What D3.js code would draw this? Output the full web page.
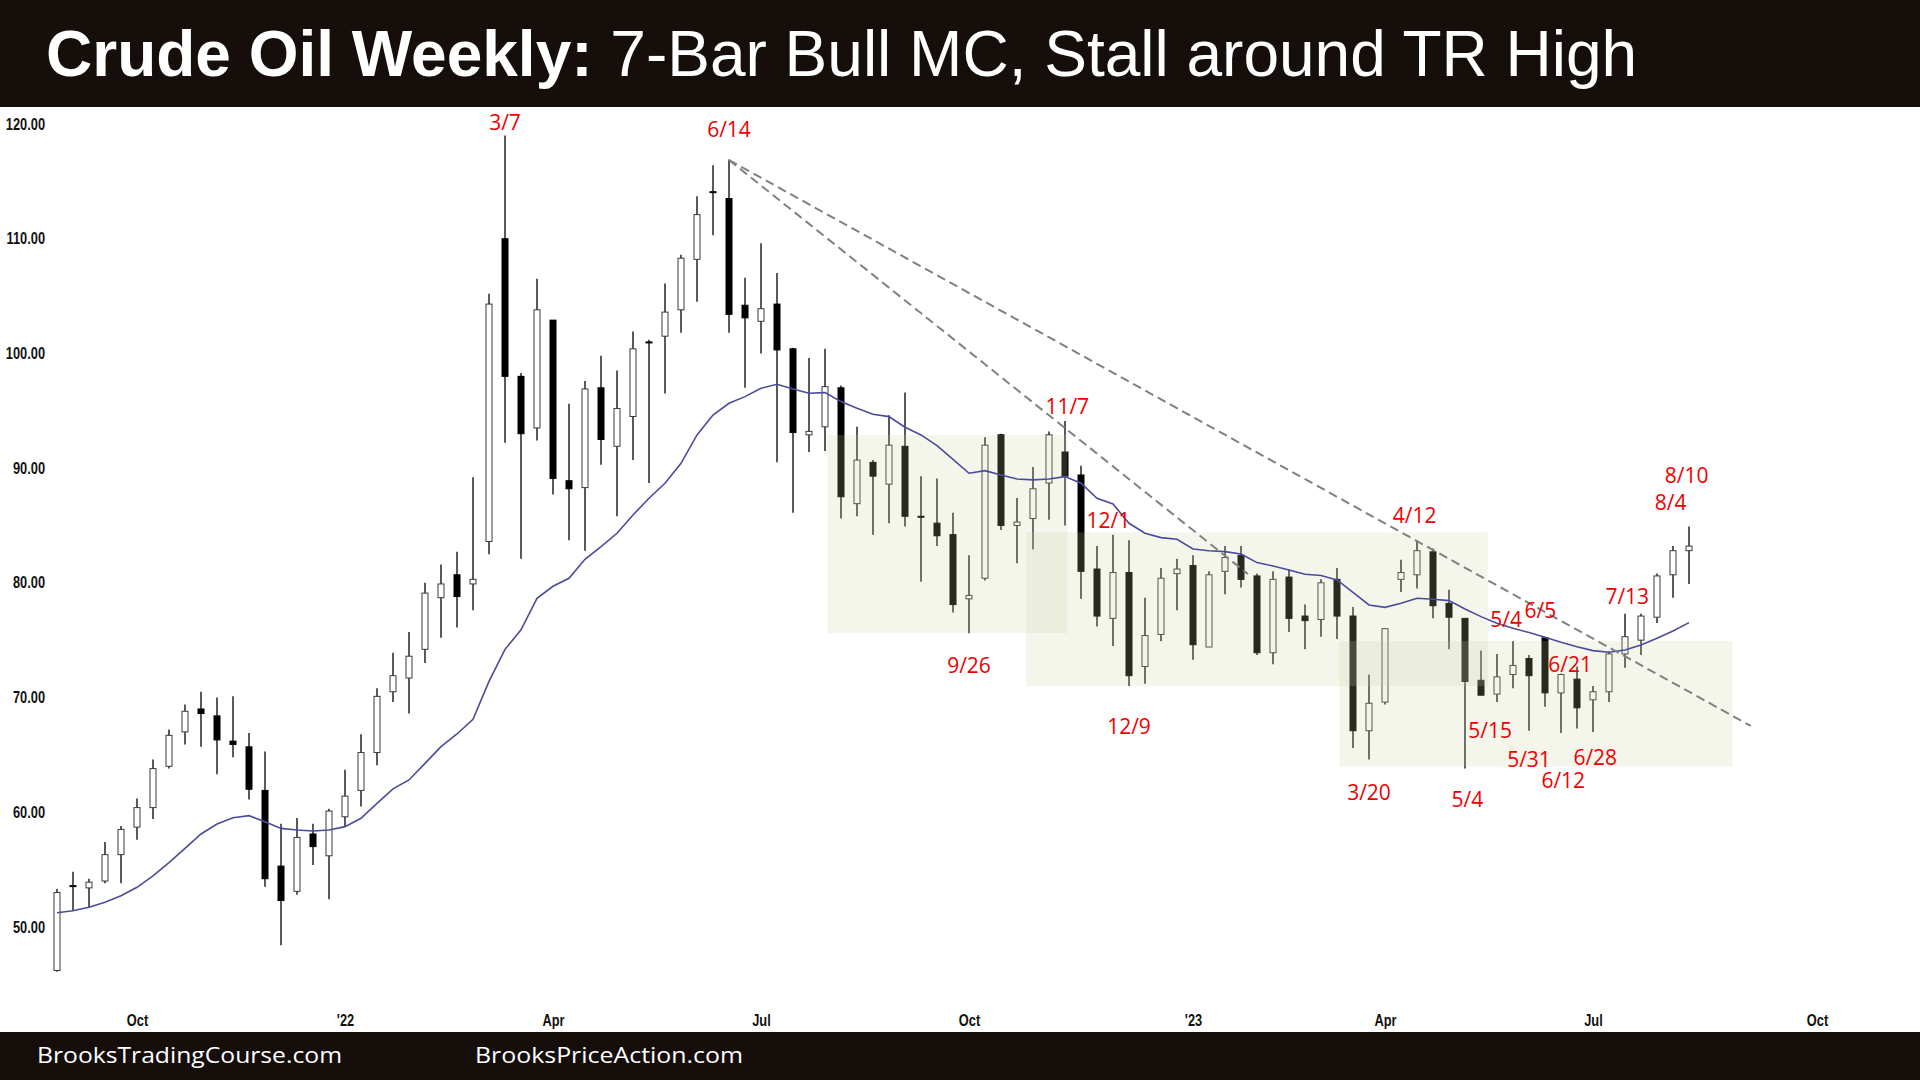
<!DOCTYPE html>
<html>
<head>
<meta charset="utf-8">
<title>Crude Oil Weekly</title>
<script src="https://cdn.jsdelivr.net/npm/d3@7"></script>
<style>
  body { margin: 0; background: #fff; }
  svg { display: block; }
  .axis text { font-family: "Liberation Sans Narrow", "Arial Narrow", "Liberation Sans", sans-serif; font-weight: bold; font-size: 16px; fill: #111; }
  .axis .domain, .axis line { display: none; }
  .note { font-family: "Open Sans", sans-serif; font-size: 21px; fill: #ee0000; text-anchor: middle; }
  .footer { font-family: "Open Sans", sans-serif; font-size: 21px; fill: #fff; }
</style>
</head>
<body>
<div id="chart"></div>
<script>

// weekly bars (Monday of each week)
var weeks = [
  "2021-08-23","2021-08-30","2021-09-06","2021-09-13","2021-09-20","2021-09-27","2021-10-04","2021-10-11",
  "2021-10-18","2021-10-25","2021-11-01","2021-11-08","2021-11-15","2021-11-22","2021-11-29","2021-12-06",
  "2021-12-13","2021-12-20","2021-12-27","2022-01-03","2022-01-10","2022-01-17","2022-01-24","2022-01-31",
  "2022-02-07","2022-02-14","2022-02-21","2022-02-28","2022-03-07","2022-03-14","2022-03-21","2022-03-28",
  "2022-04-04","2022-04-11","2022-04-18","2022-04-25","2022-05-02","2022-05-09","2022-05-16","2022-05-23",
  "2022-05-30","2022-06-06","2022-06-13","2022-06-20","2022-06-27","2022-07-04","2022-07-11","2022-07-18",
  "2022-07-25","2022-08-01","2022-08-08","2022-08-15","2022-08-22","2022-08-29","2022-09-05","2022-09-12",
  "2022-09-19","2022-09-26","2022-10-03","2022-10-10","2022-10-17","2022-10-24","2022-10-31","2022-11-07",
  "2022-11-14","2022-11-21","2022-11-28","2022-12-05","2022-12-12","2022-12-19","2022-12-26","2023-01-02",
  "2023-01-09","2023-01-16","2023-01-23","2023-01-30","2023-02-06","2023-02-13","2023-02-20","2023-02-27",
  "2023-03-06","2023-03-13","2023-03-20","2023-03-27","2023-04-03","2023-04-10","2023-04-17","2023-04-24",
  "2023-05-01","2023-05-08","2023-05-15","2023-05-22","2023-05-29","2023-06-05","2023-06-12","2023-06-19",
  "2023-06-26","2023-07-03","2023-07-10","2023-07-17","2023-07-24","2023-07-31","2023-08-07"
];

var opens = [
  46.2,53.6,53.4,54.0,56.3,58.7,60.4,64.0,67.0,69.0,68.4,66.2,65.7,61.9,55.3,53.1,58.1,56.2,59.6,61.9,
  65.2,70.5,71.7,74.2,78.7,80.7,79.9,83.6,110.0,98.0,93.5,102.9,88.9,88.3,97.0,91.9,94.5,101.0,101.5,103.8,
  108.2,114.1,113.5,104.2,102.8,104.3,100.4,92.9,93.6,97.0,86.9,90.5,88.6,91.9,85.8,85.2,84.2,78.6,80.4,92.9,
  85.0,85.6,88.7,91.4,89.4,81.2,76.9,80.9,72.7,75.5,80.8,81.5,74.4,81.0,82.4,80.6,73.9,80.5,77.1,76.8,
  80.3,77.1,67.1,69.6,80.3,80.7,82.7,78.2,76.9,71.5,70.3,72.0,73.4,75.2,70.4,71.6,69.8,70.5,73.8,75.0,
  77.0,80.7,82.8
];
var highs = [
  53.3,54.8,54.2,57.4,58.8,61.2,64.6,67.2,69.4,70.5,70.0,70.1,66.9,65.3,59.0,59.5,59.0,60.3,63.7,66.8,
  70.8,73.9,75.7,80.0,81.6,82.7,89.2,105.2,119.0,98.3,106.5,102.9,95.6,97.6,99.8,98.5,101.9,101.2,106.1,108.6,
  113.7,116.4,116.9,106.6,109.6,107.0,100.5,99.6,100.4,97.2,93.6,90.7,94.6,96.6,89.3,89.1,86.1,82.4,92.7,93.0,
  87.4,90.1,93.2,94.1,90.2,83.2,84.2,83.7,78.7,81.3,82.1,82.4,81.0,83.2,83.2,80.8,81.0,81.2,78.1,80.3,
  81.3,77.9,72.0,76.0,82.0,83.7,83.0,79.4,76.9,74.1,73.8,74.9,73.7,75.3,72.1,72.7,71.0,74.0,77.3,77.3,
  80.8,83.2,84.9
];
var lows = [
  46.1,51.4,51.7,53.8,53.8,57.6,59.4,63.8,65.9,65.7,63.3,64.8,61.1,53.5,48.4,52.8,55.4,52.4,58.7,60.5,
  64.1,69.6,68.6,73.0,75.2,76.1,77.6,82.5,92.2,82.1,92.4,87.7,83.7,82.8,90.3,85.8,90.7,88.7,96.5,101.8,
  104.5,110.3,101.8,97.0,100.0,90.5,86.1,91.4,91.5,85.6,85.8,84.2,85.2,84.9,80.1,83.2,77.4,75.6,80.2,84.6,
  81.7,82.9,85.5,85.0,78.6,76.2,74.5,71.0,71.2,74.9,77.6,73.3,74.4,79.0,79.6,73.7,72.9,75.7,74.2,75.3,
  75.1,65.6,64.6,69.4,79.2,79.5,76.9,74.2,63.8,70.2,69.6,70.8,67.1,69.2,66.9,67.3,67.0,69.6,72.6,73.7,
  76.5,78.7,79.9
];
var closes = [
  53.0,53.6,53.9,56.3,58.5,60.4,63.8,66.7,68.8,68.6,66.3,65.9,62.0,54.2,52.3,57.8,57.0,60.1,61.4,65.2,
  70.1,71.9,73.6,79.1,79.9,78.8,80.3,104.3,98.0,93.0,103.8,89.1,88.2,96.9,92.5,95.2,100.4,101.0,103.6,108.3,
  112.1,114.1,103.4,103.1,103.9,100.3,93.1,93.2,97.1,87.5,90.7,89.3,92.0,85.8,85.8,84.1,78.1,78.9,92.0,85.0,
  85.3,88.2,92.9,89.3,81.0,77.1,80.9,71.9,75.4,80.4,81.2,74.6,80.7,82.2,80.3,73.9,80.3,76.9,76.7,80.0,
  77.1,67.1,69.5,76.0,80.9,82.8,78.0,77.0,71.4,70.2,71.8,72.8,71.9,70.4,72.0,69.1,70.5,73.8,75.3,77.1,
  80.6,82.8,83.2
];

// 20-bar moving average
var ema20 = [
  51.24,51.41,51.71,52.14,52.72,53.45,54.44,55.60,56.85,58.10,58.97,59.52,59.70,59.17,58.59,58.45,58.36,58.45,58.74,59.47,
  60.77,62.03,62.81,64.26,65.71,66.82,68.10,71.40,74.20,75.90,78.65,79.70,80.39,82.05,83.15,84.32,85.91,87.37,88.68,90.42,
  92.89,94.63,95.65,96.23,96.96,97.31,96.90,96.52,96.58,95.80,95.21,94.69,94.49,93.56,92.89,91.96,90.77,89.55,89.78,89.40,
  89.05,88.97,89.05,89.26,88.68,87.37,86.87,85.19,84.32,83.94,83.79,82.95,82.80,82.72,82.51,81.76,81.47,81.12,80.74,80.63,
  80.25,79.17,78.07,77.86,78.21,78.65,78.56,78.45,77.72,77.05,76.47,76.03,75.66,75.25,74.81,74.43,74.09,73.94,74.14,74.58,
  75.16,75.80,76.53
];

var yTicks = [50, 60, 70, 80, 90, 100, 110, 120];
var xTickDates = ["2021-09-27","2021-12-27","2022-03-28","2022-06-27","2022-09-26","2023-01-02","2023-03-27","2023-06-26","2023-10-02"];
var xTickLabels = ["Oct","'22","Apr","Jul","Oct","'23","Apr","Jul","Oct"];

// trading range boxes: [start, end, top price, bottom price]
var rangeBoxes = [
  ["2022-07-26", "2022-11-08", 92.89, 75.62],
  ["2022-10-21", "2023-05-11", 84.40, 71.00],
  ["2023-03-07", "2023-08-26", 74.93, 63.97]
];

// dashed trend lines: [start date, start price, end date, end price]
var trendLines = [
  ["2022-06-13", 116.86, "2023-01-26", 80.77],
  ["2022-06-13", 116.86, "2023-09-03", 67.52]
];

// red date notes: [text, date, price at baseline]
var notes = [
  ["3/7", "2022-03-07", 119.48],
  ["6/14", "2022-06-13", 118.87],
  ["11/7", "2022-11-08", 94.72],
  ["12/1", "2022-11-26", 84.78],
  ["9/26", "2022-09-26", 72.14],
  ["12/9", "2022-12-05", 66.82],
  ["4/12", "2023-04-09", 85.21],
  ["5/4", "2023-05-19", 76.15],
  ["6/5", "2023-06-03", 76.93],
  ["3/20", "2023-03-20", 61.06],
  ["5/4", "2023-05-02", 60.45],
  ["5/15", "2023-05-12", 66.47],
  ["5/31", "2023-05-29", 63.94],
  ["6/12", "2023-06-13", 62.11],
  ["6/21", "2023-06-16", 72.22],
  ["6/28", "2023-06-27", 64.11],
  ["7/13", "2023-07-11", 78.15],
  ["8/4", "2023-07-30", 86.35],
  ["8/10", "2023-08-06", 88.70]
];

var svgWidth = 1920;
var svgHeight = 1080;

var parseDate = d3.timeParse("%Y-%m-%d");

var bars = weeks.map(function(w, i) {
    return {
        date: parseDate(w),
        open: opens[i],
        high: highs[i],
        low: lows[i],
        close: closes[i],
        ema: ema20[i]
    };
});

var svg = d3.select("#chart")
    .append("svg")
    .attr("width", svgWidth)
    .attr("height", svgHeight);

// scales
var xScale = d3.scaleTime()
    .domain([bars[0].date, bars[bars.length - 1].date])
    .range([57, 1689]);

var yScale = d3.scaleLinear()
    .domain([50, 120])
    .range([926.9, 124]);

// header and footer bands
svg.append("rect")
    .attr("x", 0).attr("y", 0)
    .attr("width", svgWidth).attr("height", 107)
    .attr("fill", "#150e0b");

svg.append("rect")
    .attr("x", 0).attr("y", 1032)
    .attr("width", svgWidth).attr("height", 48)
    .attr("fill", "#150e0b");

var title = svg.append("text")
    .attr("x", 46)
    .attr("y", 76)
    .attr("fill", "#fff")
    .attr("font-family", "'Liberation Sans', Arial, sans-serif")
    .attr("font-size", 64);
title.append("tspan").attr("font-weight", "bold").text("Crude Oil Weekly:");
title.append("tspan").text(" 7-Bar Bull MC, Stall around TR High");

svg.append("text")
    .attr("class", "footer")
    .attr("x", 37).attr("y", 1063)
    .attr("textLength", 305)
    .attr("lengthAdjust", "spacingAndGlyphs")
    .text("BrooksTradingCourse.com");

svg.append("text")
    .attr("class", "footer")
    .attr("x", 475).attr("y", 1063)
    .attr("textLength", 268)
    .attr("lengthAdjust", "spacingAndGlyphs")
    .text("BrooksPriceAction.com");

// narrow bold axis labels (no narrow font installed, so squeeze them)
function squeeze(sel) {
    sel.each(function() {
        var w = this.getComputedTextLength();
        d3.select(this)
            .attr("textLength", w * 0.8)
            .attr("lengthAdjust", "spacingAndGlyphs");
    });
}

// axes (labels only)
var leftAxis = d3.axisLeft(yScale)
    .tickValues(yTicks)
    .tickFormat(d3.format(".2f"))
    .tickSize(0)
    .tickPadding(0);

var yAxisGroup = svg.append("g")
    .attr("class", "axis")
    .attr("transform", "translate(45, 0)")
    .call(leftAxis);

squeeze(yAxisGroup.selectAll("text"));

var bottomAxis = d3.axisBottom(xScale)
    .tickValues(xTickDates.map(parseDate))
    .tickFormat(function(d, i) { return xTickLabels[i]; })
    .tickSize(0);

var xAxisGroup = svg.append("g")
    .attr("class", "axis")
    .attr("transform", "translate(0, 1026)")
    .call(bottomAxis);

xAxisGroup.selectAll("text").attr("y", 0).attr("dy", 0);
squeeze(xAxisGroup.selectAll("text"));

// candles
var candleGroup = svg.append("g");

candleGroup.selectAll("line")
    .data(bars)
    .enter()
    .append("line")
    .attr("x1", d => xScale(d.date))
    .attr("x2", d => xScale(d.date))
    .attr("y1", d => yScale(d.high))
    .attr("y2", d => yScale(d.low))
    .attr("stroke", "#000")
    .attr("stroke-width", 1.3);

candleGroup.selectAll("rect")
    .data(bars)
    .enter()
    .append("rect")
    .attr("x", d => xScale(d.date) - 3)
    .attr("y", d => yScale(Math.max(d.open, d.close)))
    .attr("width", 6)
    .attr("height", d => Math.max(1, Math.abs(yScale(d.open) - yScale(d.close))))
    .attr("fill", d => d.close > d.open ? "#fff" : "#000")
    .attr("stroke", d => d.close > d.open ? "#3a3a3a" : "#000")
    .attr("stroke-width", 1);

// trading range boxes, see-through over the bars
svg.append("g")
    .selectAll("rect")
    .data(rangeBoxes)
    .enter()
    .append("rect")
    .attr("x", d => xScale(parseDate(d[0])))
    .attr("y", d => yScale(d[2]))
    .attr("width", d => xScale(parseDate(d[1])) - xScale(parseDate(d[0])))
    .attr("height", d => yScale(d[3]) - yScale(d[2]))
    .attr("fill", "rgb(200,212,160)")
    .attr("fill-opacity", 0.2);

// moving average
var maLine = d3.line()
    .x(d => xScale(d.date))
    .y(d => yScale(d.ema));

svg.append("path")
    .datum(bars)
    .attr("d", maLine)
    .attr("fill", "none")
    .attr("stroke", "#4b4b9d")
    .attr("stroke-width", 1.6);

// trend lines
svg.append("g")
    .selectAll("line")
    .data(trendLines)
    .enter()
    .append("line")
    .attr("x1", d => xScale(parseDate(d[0])))
    .attr("y1", d => yScale(d[1]))
    .attr("x2", d => xScale(parseDate(d[2])))
    .attr("y2", d => yScale(d[3]))
    .attr("stroke", "#808080")
    .attr("stroke-width", 2)
    .attr("stroke-dasharray", "9,5");

// date notes
svg.append("g")
    .selectAll("text")
    .data(notes)
    .enter()
    .append("text")
    .attr("class", "note")
    .attr("x", d => xScale(parseDate(d[1])))
    .attr("y", d => yScale(d[2]))
    .text(d => d[0]);

</script>
</body>
</html>
